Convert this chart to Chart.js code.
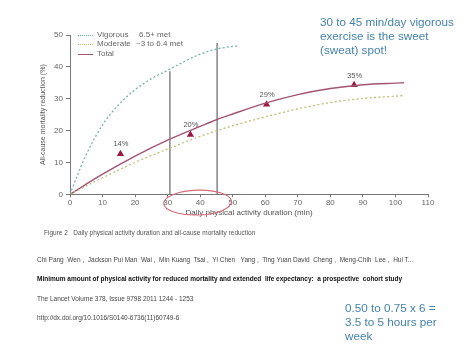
<!DOCTYPE html>
<html>
<head>
<meta charset="utf-8">
<script src="https://cdn.jsdelivr.net/npm/chart.js@4.4.1/dist/chart.umd.min.js"></script>
<style>
  html, body { margin: 0; padding: 0; background: #fff; }
  body { width: 474px; height: 355px; position: relative; overflow: hidden; font-family: "Liberation Sans", Arial, sans-serif; }
  #wrap { position: absolute; left: 0; top: 0; width: 474px; height: 355px; }
  .t { position: absolute; white-space: nowrap; }
  .blue { color: #4683ab; font-size: 11.7px; line-height: 14.2px; }
  .cite { font-size: 6.5px; line-height: 8px; color: #444; }
  .leg { font-size: 8px; line-height: 10px; color: #666; }
  .sw { position: absolute; width: 15px; height: 0; }
</style>
</head>
<body>
<div id="wrap"><canvas id="c"></canvas></div>

<div class="sw" style="left:78px; top:34.5px; border-top:1.3px dotted #6fb3aa;"></div>
<div class="sw" style="left:78px; top:44px; border-top:1.3px dotted #bdbd78;"></div>
<div class="sw" style="left:78px; top:53.5px; border-top:1.3px solid #a25473;"></div>
<div class="t leg" style="left:97px; top:30px;">Vigorous</div>
<div class="t leg" style="left:139px; top:30px;">6.5+ met</div>
<div class="t leg" style="left:97px; top:39px;">Moderate</div>
<div class="t leg" style="left:136px; top:39px;">~3 to 6.4 met</div>
<div class="t leg" style="left:97px; top:48.5px;">Total</div>

<div class="t blue" style="left:320px; top:14.5px;">30 to 45 min/day vigorous<br>exercise is the sweet<br>(sweat) spot!</div>
<div class="t blue" style="left:345px; top:301px;">0.50 to 0.75 x 6 =<br>3.5 to 5 hours per<br>week</div>

<div class="t cite" style="left:44px; top:229.3px; color:#555;">Figure 2&nbsp;&nbsp; Daily physical activity duration and all-cause mortality reduction</div>
<div class="t cite" style="left:37px; top:256px;">Chi Pang&nbsp; Wen ,&nbsp; Jackson Pui Man&nbsp; Wai ,&nbsp; Min Kuang&nbsp; Tsai ,&nbsp; Yi Chen&nbsp;&nbsp; Yang ,&nbsp; Ting Yuan David&nbsp; Cheng ,&nbsp; Meng-Chih&nbsp; Lee ,&nbsp; Hui T...</div>
<div class="t cite" style="left:37px; top:275px; font-weight:bold; color:#111;">Minimum amount of physical activity for reduced mortality and extended&nbsp; life expectancy:&nbsp; a prospective&nbsp; cohort study</div>
<div class="t cite" style="left:37px; top:295px;">The Lancet Volume 378, Issue 9798 2011 1244 - 1253</div>
<div class="t cite" style="left:37px; top:313.7px;">http://dx.doi.org/10.1016/S0140-6736(11)60749-6</div>

<script>
// ---- data ----
const xTicks = [0, 10, 20, 30, 40, 50, 60, 70, 80, 90, 100, 110];
const yTicks = [0, 10, 20, 30, 40, 50];

const vigorousX = [0, 2.5, 5, 10, 15, 20, 25, 30, 35, 40, 45, 50, 52];
const vigorousY = [0, 6.5, 12.5, 21.8, 28.2, 32.8, 36.3, 38.9, 41.6, 44.0, 45.6, 46.4, 46.6];

const moderateX = [0, 10, 20, 30, 40, 50, 60, 70, 80, 90, 100, 102.6];
const moderateY = [0, 5.2, 10.0, 14.2, 18.2, 21.5, 24.3, 26.8, 28.8, 30.1, 30.8, 31.0];

const totalX = [0, 10, 20, 30, 40, 45, 50, 60, 70, 80, 90, 100, 102.6];
const totalY = [0, 6.3, 12.0, 17.0, 21.3, 23.4, 25.2, 28.6, 31.3, 33.2, 34.4, 34.9, 35.0];

const markerX = [15.5, 37, 60.4, 87.3];
const markerY = [12.7, 18.7, 28.2, 34.3];
const markerLabels = ['14%', '20%', '29%', '35%'];

const vLineX = [30.7, 45.2];
const vLineTop = [38.6, 47.5];

// circled region (in data units)
const circleCenter = [39.2, -2.6];
const circleRadii = [10.4, 3.9];

const pts = (xs, ys) => xs.map((x, i) => ({ x, y: ys[i] }));

const datasets = [
  { label: 'Vigorous', data: pts(vigorousX, vigorousY), borderColor: '#6fb3aa', borderWidth: 1.3,
    borderDash: [2, 2.2], pointRadius: 0, cubicInterpolationMode: 'monotone', showLine: true, fill: false },
  { label: 'Moderate', data: pts(moderateX, moderateY), borderColor: '#bdbd78', borderWidth: 1.3,
    borderDash: [2, 2.4], pointRadius: 0, cubicInterpolationMode: 'monotone', showLine: true, fill: false },
  { label: 'Total', data: pts(totalX, totalY), borderColor: '#a25473', borderWidth: 1.4,
    pointRadius: 0, cubicInterpolationMode: 'monotone', showLine: true, fill: false }
];
vLineX.forEach((x, i) => {
  datasets.push({ label: 'v' + i, data: [{ x, y: 0 }, { x, y: vLineTop[i] }], borderColor: '#666',
    borderWidth: 1.2, pointRadius: 0, showLine: true, fill: false });
});
datasets.push({ label: 'Markers', data: pts(markerX, markerY), showLine: false, pointStyle: 'triangle',
  pointRadius: 4.2, backgroundColor: '#9b1840', borderColor: '#9b1840', borderWidth: 0 });

const overlay = {
  id: 'overlay',
  afterDatasetsDraw(chart) {
    const ctx = chart.ctx;
    const xs = chart.scales.x, ys = chart.scales.y;
    const meta = chart.getDatasetMeta(chart.data.datasets.length - 1);
    ctx.save();
    ctx.font = '7.5px "Liberation Sans", Arial, sans-serif';
    ctx.fillStyle = '#555';
    ctx.textAlign = 'center';
    ctx.textBaseline = 'middle';
    meta.data.forEach((p, i) => { ctx.fillText(markerLabels[i], p.x + 0.5, p.y - 9.5); });
    // ellipse
    const cx = xs.getPixelForValue(circleCenter[0]);
    const cy = ys.getPixelForValue(circleCenter[1]);
    const rx = xs.getPixelForValue(circleCenter[0] + circleRadii[0]) - cx;
    const ry = cy - ys.getPixelForValue(circleCenter[1] + circleRadii[1]);
    ctx.beginPath();
    ctx.ellipse(cx, cy, rx, ry, -0.03, 0, Math.PI * 2);
    ctx.strokeStyle = '#d46a78';
    ctx.lineWidth = 1.1;
    ctx.stroke();
    ctx.restore();
  }
};

new Chart(document.getElementById('c'), {
  type: 'scatter',
  data: { datasets },
  plugins: [overlay],
  options: {
    responsive: true,
    maintainAspectRatio: false,
    animation: false,
    devicePixelRatio: 1,
    layout: { padding: { left: 0, top: 35, right: 46, bottom: 130 } },
    plugins: { legend: { display: false }, tooltip: { enabled: false } },
    scales: {
      x: {
        type: 'linear', min: 0, max: 110,
        afterBuildTicks: (s) => { s.ticks = xTicks.map(v => ({ value: v })); },
        afterFit: (s) => { s.height = 30.7; },
        ticks: { color: '#666', font: { size: 8, family: '"Liberation Sans", Arial, sans-serif' }, padding: 1, maxRotation: 0 },
        grid: { drawOnChartArea: false, drawTicks: true, tickLength: 3, color: '#777' },
        border: { color: '#777', width: 1 },
        title: { display: true, text: 'Daily physical activity duration (min)', color: '#555',
          font: { size: 8, family: '"Liberation Sans", Arial, sans-serif' }, padding: { top: 0, bottom: 7 } }
      },
      y: {
        type: 'linear', min: 0, max: 50,
        afterBuildTicks: (s) => { s.ticks = yTicks.map(v => ({ value: v })); },
        afterFit: (s) => { s.width = 70; },
        ticks: { color: '#666', font: { size: 8, family: '"Liberation Sans", Arial, sans-serif' }, padding: 3 },
        grid: { drawOnChartArea: false, drawTicks: true, tickLength: 4, color: '#777' },
        border: { color: '#777', width: 1 },
        title: { display: true, text: 'All-cause mortality reduction (%)', color: '#555',
          font: { size: 7, family: '"Liberation Sans", Arial, sans-serif' }, padding: { top: 38.5, bottom: 0 } }
      }
    }
  }
});
</script>
</body>
</html>
